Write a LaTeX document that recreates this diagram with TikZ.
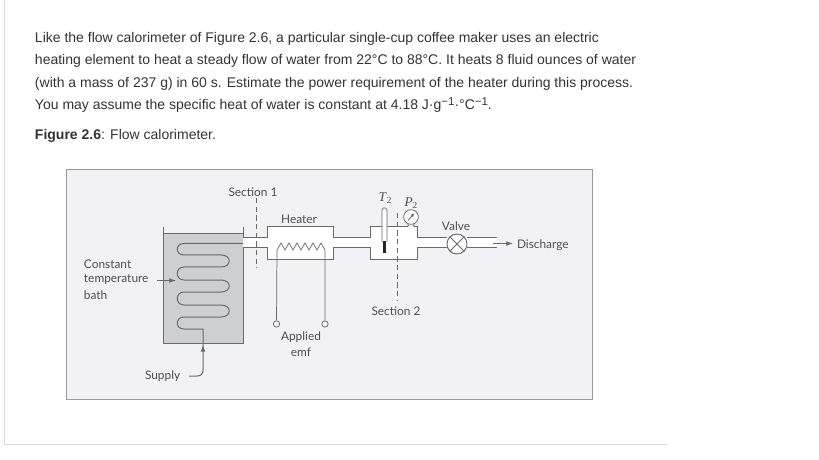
\documentclass[tikz,border=0pt]{standalone}
\usepackage{fontspec}
\setmainfont{Liberation Sans}
\newfontfamily\figfont{Lato}
\usetikzlibrary{arrows.meta}
\definecolor{inkc}{HTML}{4F4F4F}
\definecolor{linec}{HTML}{6A6A6A}
\definecolor{panelc}{HTML}{F2F2F4}
\definecolor{bathc}{HTML}{CDCFD1}
\definecolor{framec}{HTML}{DADADA}
\definecolor{bodyc}{HTML}{333333}
\newcommand{\supnum}[1]{\raisebox{3pt}{\fontsize{8.6}{12}\selectfont #1}}
\tikzset{
  x=0.75pt,y=-0.75pt,
  bodytext/.style={anchor=base west,inner sep=0,outer sep=0,text=bodyc,font=\fontsize{10.5}{12}\selectfont},
  figtext/.style={inner sep=0,outer sep=0,text=inkc,font=\figfont\fontsize{8.9}{10}\selectfont},
  symtext/.style={text=inkc,inner sep=0,font=\fontsize{10}{11}\selectfont},
  wire/.style={draw=linec,line width=0.75pt},
  thin wire/.style={draw=linec,line width=0.55pt},
  sectionline/.style={draw=linec,line width=0.55pt,dash pattern=on 4pt off 2.5pt},
  terminal/.style={circle,draw=linec,fill=panelc,line width=0.55pt,minimum size=4.8pt,inner sep=0},
  flowtip/.style={-{Latex[length=5pt,width=3.6pt]},draw=linec,line width=0.6pt}
}
\begin{document}
\begin{tikzpicture}
\useasboundingbox (0,0) rectangle (819,460);
\fill[white] (0,0) rectangle (819,460);
% page frame
\draw[framec,line width=0.7pt] (4,0) -- (4,444) -- (667,444);
% question text
\node[bodytext] (l1) at (35,43) {Like the flow calorimeter of Figure 2.6, a particular single-cup coffee maker uses an electric};
\node[bodytext] (l2) at (35,65) {heating element to heat a steady flow of water from 22°C to 88°C. It heats 8 fluid ounces of water};
\node[bodytext] (l3) at (35,87.5) {(with a mass of 237 g) in 60 s. Estimate the power requirement of the heater during this process.};
\node[bodytext] (l4) at (35,110) {You may assume the specific heat of water is constant at 4.18 J·g\supnum{−1}·°C\supnum{−1}.};
\node[bodytext] (l5) at (35,139.5) {\textbf{Figure 2.6}: Flow calorimeter.};
% panel
\draw[fill=panelc,draw=gray!80,line width=0.75pt] (66,170) rectangle (592,399);
% bath
\fill[bathc] (163,233) rectangle (243,343);
\draw[wire] (163,227) -- (163,343) -- (243,343) -- (243,227);
\draw[thin wire] (163,233) -- (243,233);
% flow passage
\fill[white] (243,238) -- (267,238) -- (267,227) -- (333,227) -- (333,238) -- (370,238) -- (370,227) -- (417,227) -- (417,238) -- (497,238) -- (497,248) -- (417,248) -- (417,260) -- (370,260) -- (370,248) -- (333,248) -- (333,260) -- (267,260) -- (267,248) -- (243,248) -- cycle;
\draw[wire] (243,238) -- (267,238) -- (267,227) -- (333,227) -- (333,238) -- (370,238) -- (370,227) -- (407,227);
\draw[wire] (415,227) -- (417,227) -- (417,238) -- (447,238);
\draw[wire] (243,248) -- (267,248) -- (267,260) -- (333,260) -- (333,248) -- (370,248) -- (370,260) -- (417,260) -- (417,248) -- (447,248);
\draw[wire] (467,238) -- (497,238);
\draw[wire] (467,248) -- (497,248);
% coil
\coordinate (coilin) at (243,243.5);
\coordinate (coilend) at (203,350);
\draw[wire,line join=round]
  (coilin) -- (184,243.5) .. controls (175,243.5) and (175,255) .. (184,255)
  -- (221,255) .. controls (232,255) and (232,267) .. (221,267)
  -- (184,267) .. controls (175,267) and (175,280) .. (184,280)
  -- (221,280) .. controls (232,280) and (232,292) .. (221,292)
  -- (184,292) .. controls (175,292) and (175,305) .. (184,305)
  -- (221,305) .. controls (232,305) and (232,317) .. (221,317)
  -- (184,317) .. controls (175,317) and (175,329) .. (184,329)
  -- (203,329) -- (coilend);
% supply
\node[figtext,anchor=west] (supply) at (145,376) {Supply};
\coordinate (supplyin) at (189,376);
\coordinate (supplytip) at (203,345);
\draw[wire,-{Latex[length=5pt,width=3.6pt]}] (supplyin) -- (197,376) .. controls (201,376) and (203,374) .. (203,370) -- (supplytip);
% bath label
\node[figtext,anchor=west] (b1) at (84,264.5) {Constant};
\node[figtext,anchor=west] (b2) at (84,280) {temperature};
\node[figtext,anchor=west] (b3) at (84,295) {bath};
\coordinate (batha) at (157,280.5);
\coordinate (bathb) at (176,280.5);
\draw[flowtip] (batha) -- (bathb);
% section lines
\node[figtext] (s1) at (253,192.5) {Section 1};
\coordinate (s1b) at (256,268);
\draw[sectionline] (256,198) -- (s1b);
\node[figtext] (s2) at (396,311.5) {Section 2};
\coordinate (s2t) at (397,213);
\draw[sectionline] (s2t) -- (397,300);
% heater
\node[figtext] (heater) at (299,219) {Heater};
\coordinate (z1) at (277,250);
\coordinate (z2) at (325,250);
\node[terminal] (t1) at (276.5,324) {};
\node[terminal] (t2) at (325,324) {};
\draw[thin wire,line join=miter] (t1) -- (z1) -- (281,243) -- (285,250) -- (289,243) -- (293,250) -- (297,243) -- (301,250) -- (305,243) -- (309,250) -- (313,243) -- (317,250) -- (321,243) -- (z2) -- (t2);
\node[figtext] (emf1) at (301,337.5) {Applied};
\node[figtext] (emf2) at (301,352.5) {emf};
% thermometer
\draw[thin wire,fill=white,rounded corners=1.2pt] (382,242) -- (382,208) -- (387,208) -- (387,242);
\fill[black!85] (383.2,241) rectangle (385.8,253);
\node[symtext] (T2) at (385,198) {\setmainfont{Liberation Serif}\textit{T}\raisebox{-1.5pt}{\fontsize{7}{8}\selectfont 2}};
% gauge
\draw[thin wire] (407,227) .. controls (409,227) and (409,224) .. (407.5,223.5);
\draw[thin wire] (415,227) .. controls (413,227) and (413,224) .. (414.5,223.5);
\node[circle,draw=linec,fill=white,line width=0.6pt,minimum size=11pt,inner sep=0] (gauge) at (411,217) {};
\draw[linec,line width=0.6pt,-{Latex[length=3pt,width=2.4pt]}] (408,220.5) -- (414.5,213);
\node[symtext] (P2) at (411,203) {\setmainfont{Liberation Serif}\textit{P}\raisebox{-1.5pt}{\fontsize{7}{8}\selectfont 2}};
% valve
\node[circle,draw=linec,fill=white,line width=0.7pt,minimum size=15pt,inner sep=0] (valve) at (457,244) {};
\draw[thin wire] (valve.north west) -- (valve.south east);
\draw[thin wire] (valve.north east) -- (valve.south west);
\node[figtext] (vl) at (456,226.5) {Valve};
% discharge
\node[figtext,anchor=west] (disch) at (517,245) {Discharge};
\coordinate (da) at (493,243.5);
\coordinate (db) at (513,243.5);
\draw[flowtip] (da) -- (db);
\end{tikzpicture}
\end{document}
